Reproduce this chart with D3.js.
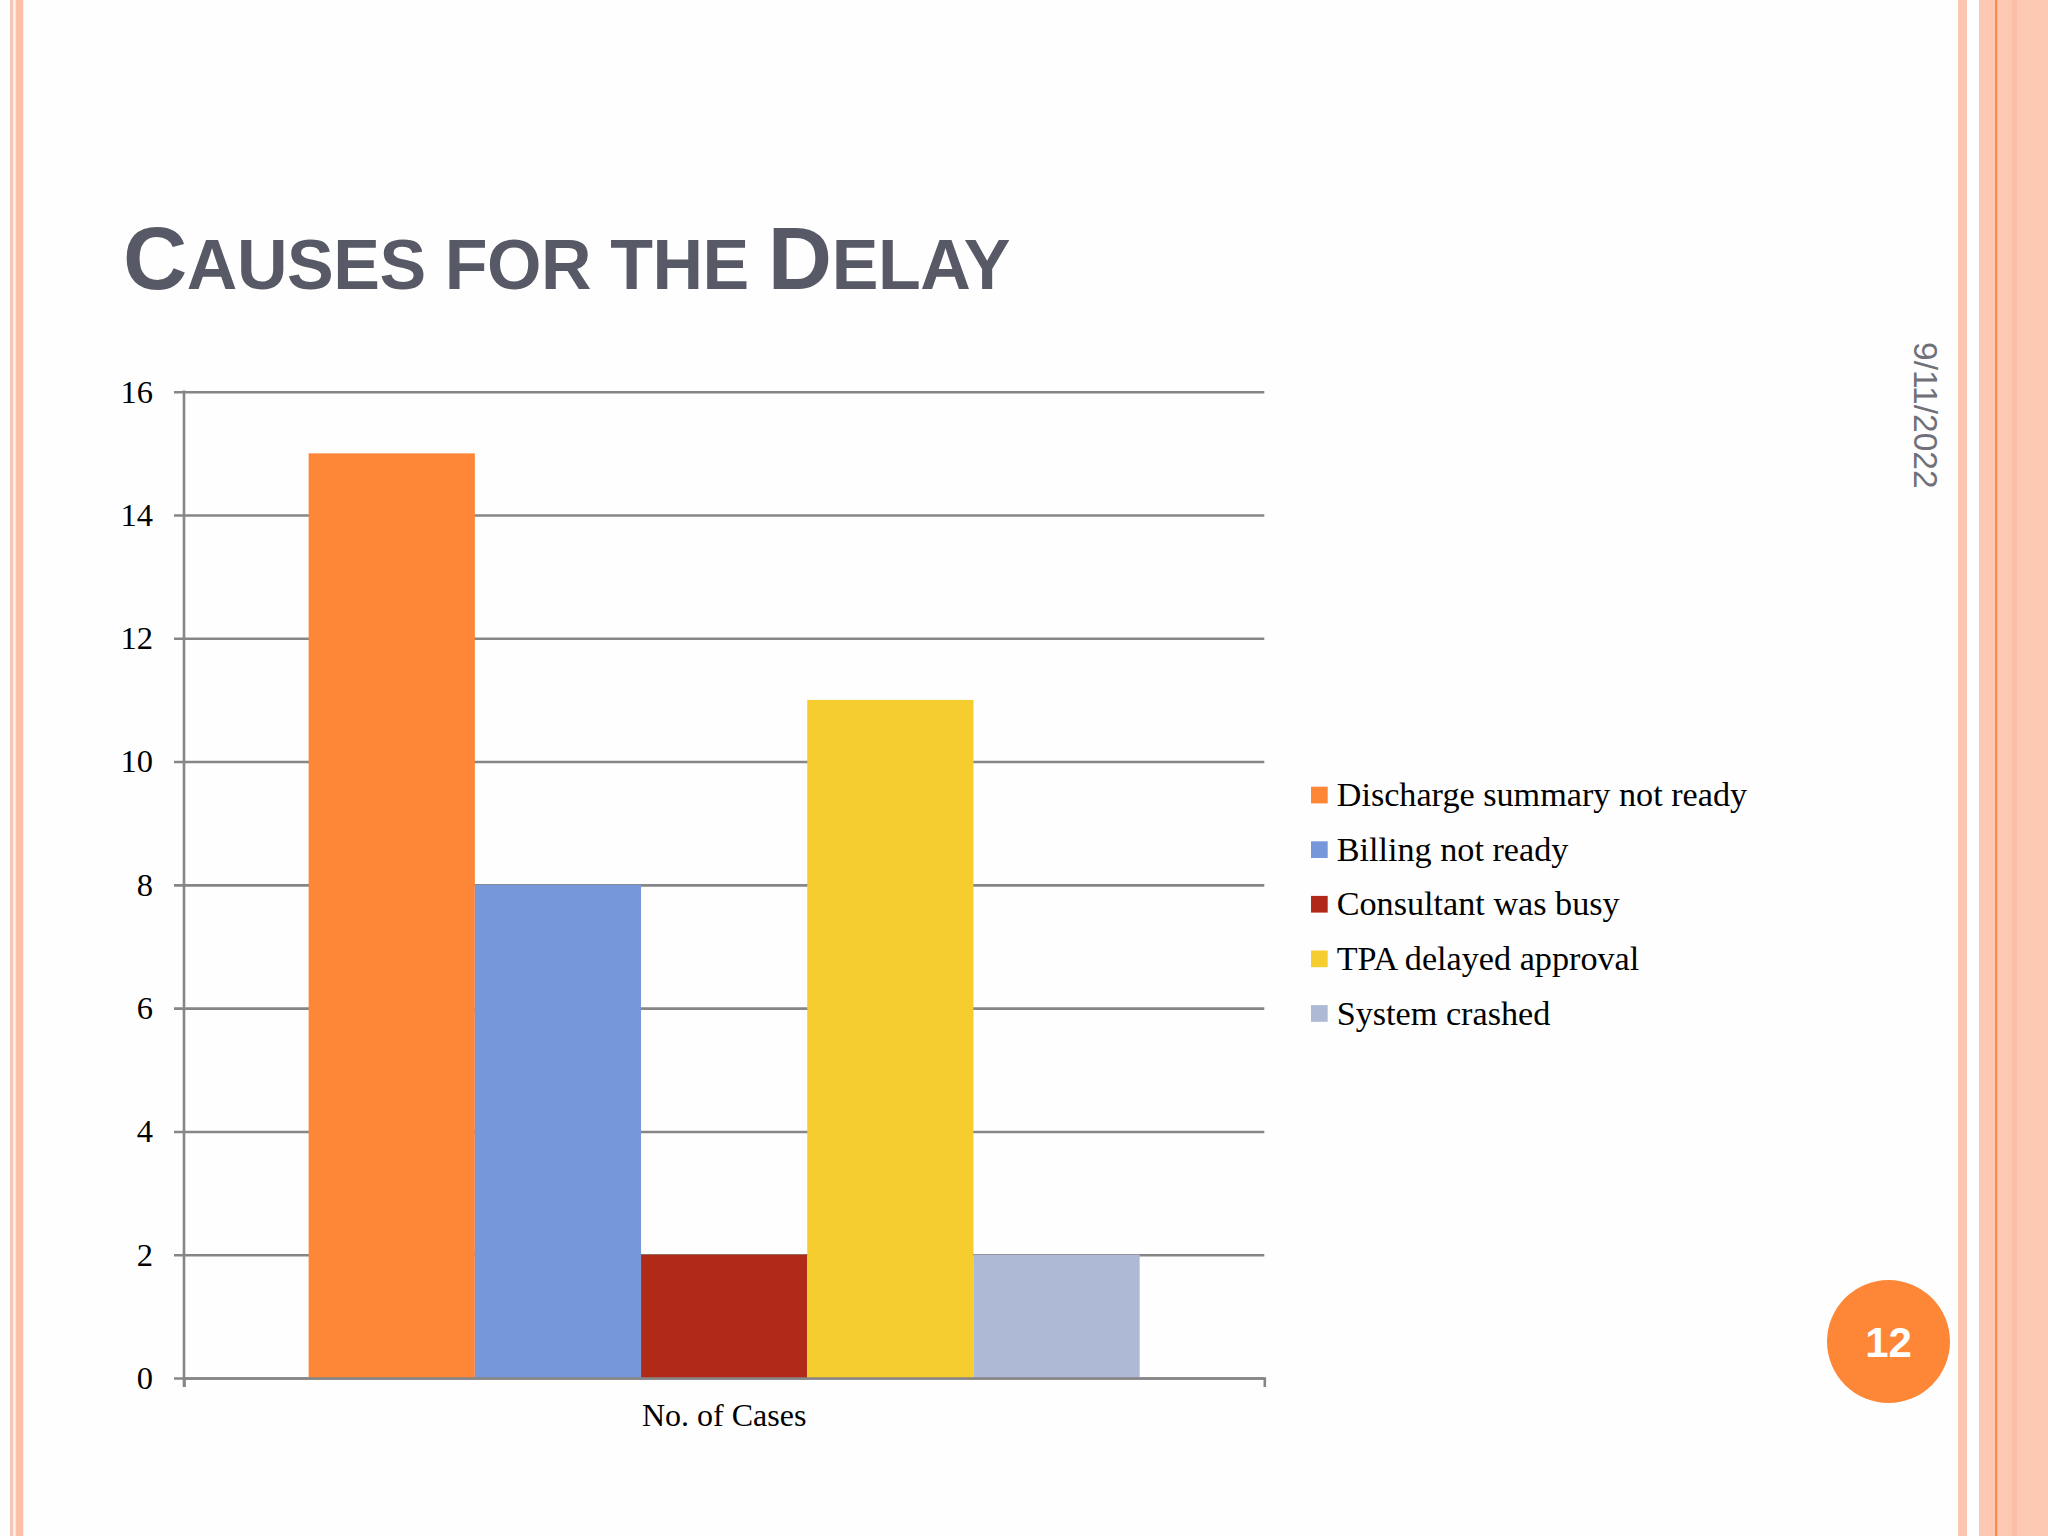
<!DOCTYPE html>
<html>
<head>
<meta charset="utf-8">
<script src="https://cdn.jsdelivr.net/npm/d3@7"></script>
<style>
  html, body { margin: 0; padding: 0; background: #ffffff; }
  svg { display: block; }
</style>
</head>
<body>
<script>
// ---- data ----
const categories = ["No. of Cases"];
const seriesNames = ["Discharge summary not ready", "Billing not ready", "Consultant was busy", "TPA delayed approval", "System crashed"];
const seriesValues = [15, 8, 2, 11, 2];
const seriesColors = ["#fd8637", "#7698db", "#b12a17", "#f5cd2e", "#aeb9d5"];
const yTicks = [0, 2, 4, 6, 8, 10, 12, 14, 16];
const titleParts = [["C", true], ["AUSES FOR THE ", false], ["D", true], ["ELAY", false]];
const dateText = "9/11/2022";
const pageNumber = "12";

(function () {
const W = 2048, H = 1536;
const svg = d3.select("body").append("svg").attr("width", W).attr("height", H);

svg.append("rect").attr("width", W).attr("height", H).attr("fill", "#fefefe");

// ---- slide decorations ----
svg.append("rect").attr("x", 10).attr("y", 0).attr("width", 3.5).attr("height", H).attr("fill", "#f5c6b6");
svg.append("rect").attr("x", 13.5).attr("y", 0).attr("width", 2.2).attr("height", H).attr("fill", "#fdf0e8");
svg.append("rect").attr("x", 15.7).attr("y", 0).attr("width", 7.6).attr("height", H).attr("fill", "#fcbfa8");
svg.append("rect").attr("x", 1958).attr("y", 0).attr("width", 9).attr("height", H).attr("fill", "#fcc6b2");
svg.append("rect").attr("x", 1979).attr("y", 0).attr("width", 69).attr("height", H).attr("fill", "#fdc8b1");
svg.append("rect").attr("x", 1995).attr("y", 0).attr("width", 2.2).attr("height", H).attr("fill", "#f98a4c");
svg.append("rect").attr("x", 2012).attr("y", 0).attr("width", 5).attr("height", H).attr("fill", "#fbbea6");

// title
const title = svg.append("text").attr("x", 123).attr("y", 289)
  .attr("font-family", "'Liberation Sans', Arial, sans-serif").attr("font-weight", "bold")
  .attr("letter-spacing", -0.45).attr("fill", "#575a66");
titleParts.forEach(([t, big]) => {
  title.append("tspan").attr("font-size", big ? 89 : 70).text(t);
});

// date
svg.append("text").attr("transform", "translate(1905,342) rotate(90)")
  .attr("font-family", "'Liberation Sans', Arial, sans-serif").attr("font-size", 33.5)
  .attr("fill", "#707079").attr("dominant-baseline", "text-after-edge").attr("dy", "-0.05em")
  .text(dateText);

// page number
svg.append("circle").attr("cx", 1888.5).attr("cy", 1341.5).attr("r", 61.5).attr("fill", "#fd8637");
svg.append("text").attr("x", 1888.5).attr("y", 1356.5).attr("text-anchor", "middle")
  .attr("font-family", "'Liberation Sans', Arial, sans-serif").attr("font-weight", "bold")
  .attr("font-size", 42).attr("fill", "#ffffff").text(pageNumber);

// ---- chart ----
const pLeft = 184, pRight = 1264.3, pTop = 391.7, pBottom = 1378;
const x0 = d3.scaleBand().domain(categories).range([pLeft, pRight]).paddingInner(0).paddingOuter(0.15);
const x1 = d3.scaleBand().domain(seriesNames).range([0, x0.bandwidth()]).padding(0);
const y = d3.scaleLinear().domain([0, 16]).range([pBottom, pTop]);

const axisColor = "#868686";
const serif = "'Liberation Serif', 'Times New Roman', serif";

const yAxis = svg.append("g").attr("transform", `translate(${pLeft},0)`)
  .call(d3.axisLeft(y).tickValues(yTicks).tickSize(-(pRight - pLeft)).tickSizeOuter(0).tickPadding(31)
        .tickFormat(d3.format("d")));
yAxis.select(".domain").remove();
yAxis.selectAll(".tick line").attr("x1", -10).attr("stroke", axisColor).attr("stroke-width", 2.6);
yAxis.selectAll(".tick text").attr("font-family", serif).attr("font-size", 32.5).attr("fill", "#000");

// bars
const g = svg.append("g");
g.selectAll("rect").data(seriesNames.map((n, i) => ({ n, v: seriesValues[i], c: seriesColors[i] })))
  .join("rect")
  .attr("x", d => x0(categories[0]) + x1(d.n))
  .attr("y", d => y(d.v))
  .attr("width", x1.bandwidth())
  .attr("height", d => y(0) - y(d.v))
  .attr("fill", d => d.c);

// y axis line
svg.append("line").attr("x1", pLeft).attr("x2", pLeft).attr("y1", pTop - 1.3).attr("y2", pBottom + 9)
  .attr("stroke", axisColor).attr("stroke-width", 2.6);

// x axis
const xAxis = svg.append("g").attr("transform", `translate(0,${pBottom})`)
  .call(d3.axisBottom(x0).tickSize(0).tickSizeOuter(9).tickPadding(25));
xAxis.select(".domain").attr("stroke", axisColor).attr("stroke-width", 2.6);
xAxis.selectAll(".tick text").attr("font-family", serif).attr("font-size", 32).attr("fill", "#000")
  .attr("dy", "0.71em");

// legend
const lg = svg.append("g").attr("transform", "translate(1311,795)");
const rowH = 54.6;
seriesNames.forEach((n, i) => {
  lg.append("rect").attr("x", 0).attr("y", i * rowH - 8.3).attr("width", 16.7).attr("height", 16.7)
    .attr("fill", seriesColors[i]);
  lg.append("text").attr("x", 25.7).attr("y", i * rowH).attr("dy", "0.33em")
    .attr("font-family", serif).attr("font-size", 34.2).attr("fill", "#000").text(n);
});
})();
</script>
</body>
</html>
